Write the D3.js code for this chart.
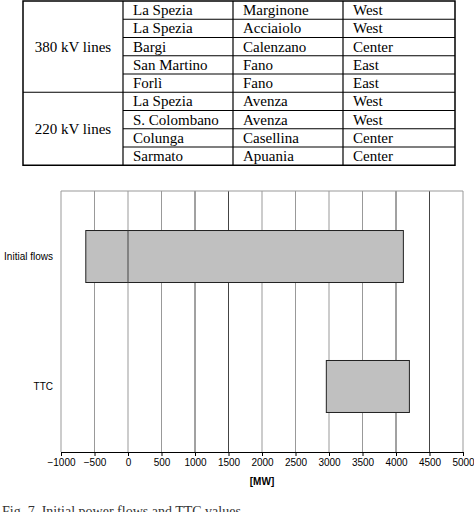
<!DOCTYPE html><html><head><meta charset="utf-8"><script src="https://d3js.org/d3.v7.min.js"></script>
<style>body{margin:0;background:#fff}</style></head><body><svg width="474" height="512"></svg><script>
const groups=["380 kV lines","220 kV lines"];
const fromNodes=["La Spezia","La Spezia","Bargi","San Martino","Forlì","La Spezia","S. Colombano","Colunga","Sarmato"];
const toNodes=["Marginone","Acciaiolo","Calenzano","Fano","Fano","Avenza","Avenza","Casellina","Apuania"];
const zones=["West","West","Center","East","East","West","West","Center","Center"];
const groupSizes=[5,4];
const categories=["Initial flows","TTC"];
const barStart=[-630,2960];
const barEnd=[4110,4200];
const ticks=[-1000,-500,0,500,1000,1500,2000,2500,3000,3500,4000,4500,5000];
const svg=d3.select("svg");
// table
const colX=[23,123,233,343,455], tTop=1, rh=18.25;
const t=svg.append("g");
const ry=d3.scaleLinear().domain([0,9]).range([tTop,tTop+9*rh]);
t.append("rect").attr("x",colX[0]).attr("y",tTop).attr("width",colX[4]-colX[0]).attr("height",9*rh).attr("fill","none").attr("stroke","#000").attr("stroke-width",1.5);
[1,2,3].forEach(c=>t.append("line").attr("x1",colX[c]).attr("x2",colX[c]).attr("y1",tTop).attr("y2",tTop+9*rh).attr("stroke","#000").attr("stroke-width",1.2));
for(let r=1;r<9;r++){t.append("line").attr("x1",r==5?colX[0]:colX[1]).attr("x2",colX[4]).attr("y1",ry(r)).attr("y2",ry(r)).attr("stroke","#000").attr("stroke-width",1.2);}
const tf="'Liberation Serif',serif";
let start=0;
groups.forEach((g,i)=>{t.append("text").attr("x",(colX[0]+colX[1])/2).attr("y",ry(start+groupSizes[i]/2)+5).attr("text-anchor","middle").attr("font-family",tf).attr("font-size",15).text(g);start+=groupSizes[i];});
[fromNodes,toNodes,zones].forEach((arr,c)=>arr.forEach((v,r)=>t.append("text").attr("x",colX[c+1]+10).attr("y",ry(r)+14).attr("font-family",tf).attr("font-size",15).text(v)));
// chart
const x=d3.scaleLinear().domain([-1000,5000]).range([61,463]);
const y=d3.scaleBand().domain(categories).range([191,452]).paddingInner(0.6).paddingOuter(0.304);
const c=svg.append("g");
const dark=[1000,1500,4000,4500];
ticks.forEach(v=>c.append("line").attr("x1",x(v)).attr("x2",x(v)).attr("y1",191).attr("y2",452).attr("stroke",dark.includes(v)?"#444":"#999").attr("stroke-width",1));
c.append("line").attr("x1",61).attr("x2",463).attr("y1",191).attr("y2",191).attr("stroke","#999");
categories.forEach((k,i)=>{
 c.append("rect").attr("x",x(barStart[i])).attr("y",y(k)).attr("width",x(barEnd[i])-x(barStart[i])).attr("height",y.bandwidth()).attr("fill","#c0c0c0").attr("stroke","#222").attr("stroke-width",1);
 if(barStart[i]<0) c.append("line").attr("x1",x(0)).attr("x2",x(0)).attr("y1",y(k)).attr("y2",y(k)+y.bandwidth()).attr("stroke","#444");
});
const ax=c.append("g").attr("transform","translate(0,452)").call(d3.axisBottom(x).tickValues(ticks).tickSize(4).tickFormat(d3.format("d")));
ax.selectAll("text").attr("font-family","Arial,'Liberation Sans'").attr("font-size",10).attr("fill","#000");
ax.select(".domain").attr("stroke","#000");
const ay=c.append("g").attr("transform","translate(61,0)").call(d3.axisLeft(y).tickSize(0).tickPadding(8));
ay.select(".domain").remove();
ay.selectAll("text").attr("font-family","Arial,'Liberation Sans'").attr("font-size",10).attr("fill","#000");
c.append("text").attr("x",x(2000)).attr("y",485).attr("text-anchor","middle").attr("font-family","Arial").attr("font-size",10).attr("font-weight","bold").text("[MW]");
svg.append("text").attr("x",2).attr("y",516).attr("font-family",tf).attr("font-size",14).attr("fill","#333").text("Fig. 7.  Initial power flows and TTC values");
</script></body></html>
